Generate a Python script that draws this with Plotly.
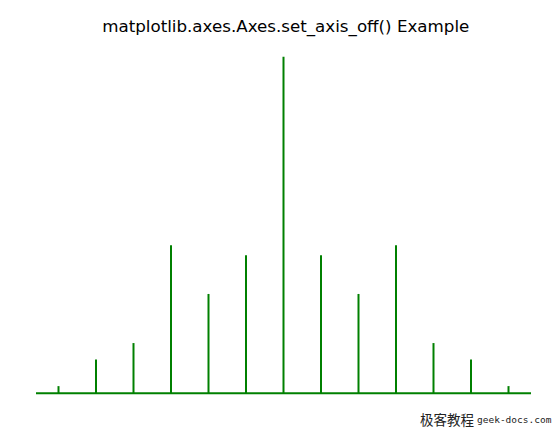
import plotly.graph_objects as go

# autocorrelation-like values (lag -6 .. 6)
lags = [-6, -5, -4, -3, -2, -1, 0, 1, 2, 3, 4, 5, 6]
corr = [0.021, 0.10, 0.149, 0.44, 0.295, 0.41, 1.0, 0.41, 0.295, 0.44, 0.149, 0.10, 0.021]

title_text = "matplotlib.axes.Axes.set_axis_off() Example"
line_color = "green"

# build vertical lines from 0 to value, separated by None
xs, ys = [], []
for lag, c in zip(lags, corr):
    xs += [lag, lag, None]
    ys += [0, c, None]

fig = go.Figure()
fig.add_trace(go.Scatter(x=xs, y=ys, mode="lines",
                         line=dict(color=line_color, width=2),
                         hoverinfo="skip", showlegend=False))

# horizontal line at zero across the whole axes
fig.add_shape(type="line", xref="paper", yref="y", x0=0, x1=1, y0=0, y1=0,
              line=dict(color=line_color, width=2))

# page puts the figure 8px in from the corner, so margins are shifted by that
fig.update_layout(
    width=560, height=429,
    margin=dict(l=28, r=37, t=32, b=27),
    paper_bgcolor="white", plot_bgcolor="white",
    title=dict(text=title_text, x=0.496, xanchor="center", y=0.958, yanchor="middle",
               font=dict(family="DejaVu Sans", size=16.7, color="black")),
    xaxis=dict(range=[-6.6, 6.6], visible=False),
    yaxis=dict(range=[-0.05, 1.05], visible=False),
    font=dict(family="DejaVu Sans"),
)

# watermark in the bottom right corner
fig.add_annotation(text="极客教程", xref="paper", yref="paper", x=(475 - 36) / 495, y=-0.025,
                   xanchor="right", yanchor="middle", showarrow=False, borderpad=0,
                   font=dict(family="Noto Sans CJK SC", size=13.5, color="#222"))
fig.add_annotation(text="geek-docs.com", xref="paper", yref="paper", x=(476 - 36) / 495, y=-0.027,
                   xanchor="left", yanchor="middle", showarrow=False, borderpad=0,
                   font=dict(family="DejaVu Sans Mono", size=9.5, color="#222"))

fig.write_html("out.html")
